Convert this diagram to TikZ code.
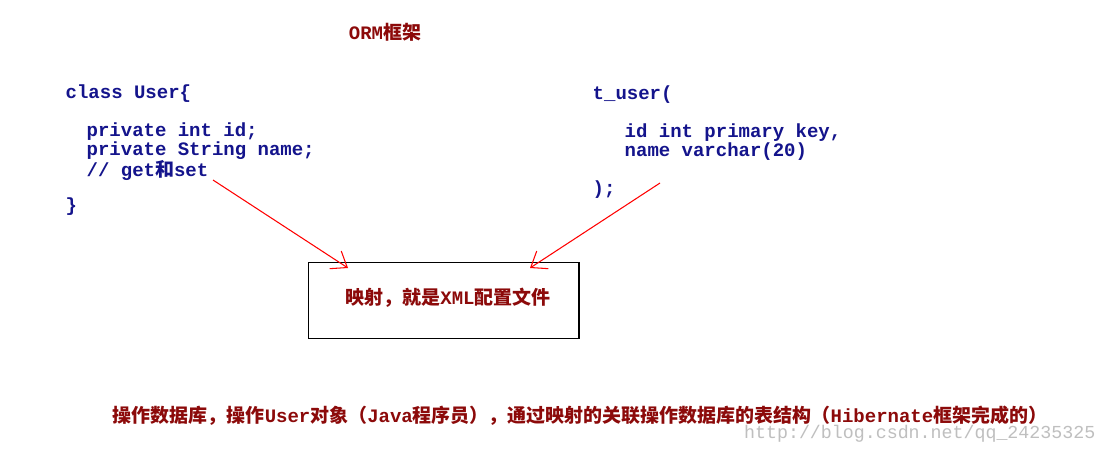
\documentclass[tikz,border=0pt]{standalone}
\usepackage{fontspec}
\setmonofont{Liberation Mono}
\newfontfamily\cjk{Noto Sans CJK SC}
\usetikzlibrary{arrows.meta}
\definecolor{codeblue}{RGB}{20,20,140}
\definecolor{notered}{RGB}{140,10,10}
\begin{document}
\begin{tikzpicture}[
  x=0.01cm, y=-0.01cm,
  every node/.style={inner sep=0pt, anchor=west},
  code/.style={font=\ttfamily\bfseries\fontsize{5.4}{6.4}\selectfont, text=codeblue},
  note/.style={font=\ttfamily\bfseries\fontsize{5.4}{6.4}\selectfont, text=notered},
  maparrow/.style={red, line width=0.3pt, -{Straight Barb[length=4pt, width=6pt]}},
]
\useasboundingbox[fill=white] (0,0) rectangle (1107,454);

% title
\node[note, anchor=center] (title) at (385,32) {ORM{\cjk 框架}};

% class side
\node[code] (cls)  at (65,94)  {class User\{};
\node[code] (id)   at (86,132) {private int id;};
\node[code] (nm)   at (86,151) {private String name;};
\node[code] (gs)   at (86,170) {// get{\cjk 和}set};
\node[code] (clse) at (65,207) {\}};

% table side
\node[code] (tbl)  at (592,95)  {t\_user(};
\node[code] (pk)   at (624,133) {id int primary key,};
\node[code] (vc)   at (624,152) {name varchar(20)};
\node[code] (tble) at (592,190) {);};

% mapping box
\node[draw, line width=0.4pt, minimum width=270\pgflinewidth, anchor=north west,
      minimum width=2.7cm, minimum height=0.76cm] (map) at (308,262) {};
\node[note, anchor=center] (maptxt) at (448,298) {{\cjk 映射，就是}XML{\cjk 配置文件}};

\coordinate (from1) at (213,180);
\coordinate (to1)   at (348,268);
\coordinate (from2) at (660,183);
\coordinate (to2)   at (530,268);
\draw[maparrow] (from1) -- (to1);
\draw[maparrow] (from2) -- (to2);

% bottom note
\node[note, anchor=center] (bottom) at (580,416)
  {{\cjk 操作数据库，操作}User{\cjk 对象（}Java{\cjk 程序员），通过映射的关联操作数据库的表结构（}Hibernate{\cjk 框架完成的）}};

% watermark
\node[font=\ttfamily\fontsize{5.2}{6}\selectfont, text=black!25, anchor=east] (wm) at (1096,434)
  {http://blog.csdn.net/qq\_24235325};
\end{tikzpicture}
\end{document}
